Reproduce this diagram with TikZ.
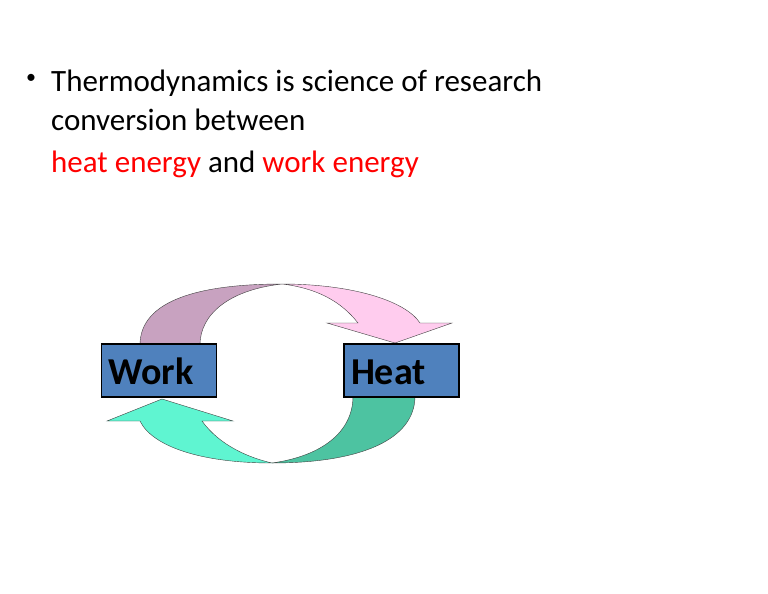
\documentclass[tikz,border=0pt]{standalone}
\usepackage{fontspec}
\setmainfont{Carlito}
\usepackage{xcolor}
\usepackage{tikz}
\usetikzlibrary{positioning,calc}
\definecolor{boxblue}{HTML}{4F81BD}
\definecolor{mauve}{HTML}{C8A2C0}
\definecolor{blush}{HTML}{FFCCEE}
\definecolor{tealdark}{HTML}{4DC3A1}
\definecolor{teallight}{HTML}{5FF5D1}
\definecolor{accent}{HTML}{FF0000}

\begin{document}
\begin{tikzpicture}[
    x=1pt, y=-1pt,
    line/.style={font=\fontsize{31}{37}\selectfont, anchor=base west, inner sep=0pt},
    block/.style={rectangle, draw=black, line width=1.5pt, fill=boxblue,
                  text width=101pt, align=left, inner xsep=7pt,
                  text height=27pt, text depth=0pt,
                  minimum height=53pt, font=\fontsize{38}{44}\selectfont\bfseries},
    band/.style={draw=black!75, line width=0.4pt},
]
\useasboundingbox (0,0) rectangle (768,594);
% bullet text
\node[font=\fontsize{20}{20}\selectfont, inner sep=0pt] (dot) at (31,79) {•};
\node[line] (first) at (51,92) {Thermodynamics is science of research};
\node[line] (second) at (51,130) {conversion between};
\node[line] (third) at (51,172) {\textcolor{accent}{heat energy} and \textcolor{accent}{work energy}};
% cycle arrows
\draw[band, fill=mauve] (140,345) .. controls (140,300) and (200,284) .. (282,284)
    .. controls (228,290) and (200,315) .. (200,345) -- cycle;
\draw[band, fill=blush] (282,284) .. controls (350,284) and (405,300) .. (420,323)
    -- (452,323) -- (395,343) -- (327,323) -- (358,323)
    .. controls (340,300) and (315,288) .. (282,284) -- cycle;
\draw[band, fill=tealdark] (415,396) .. controls (415,440) and (360,463) .. (272,463)
    .. controls (322,456) and (353,432) .. (353,396) -- cycle;
\draw[band, fill=teallight] (272,463) .. controls (200,463) and (152,446) .. (140,421)
    -- (107,421) -- (162,399) -- (233,421) -- (202,421)
    .. controls (220,446) and (250,458) .. (272,463) -- cycle;
% boxes
\node[block] (work) at (159,370.5) {Work};
\node[block] (heat) at (401.5,370.5) {Heat};
\end{tikzpicture}
\end{document}
